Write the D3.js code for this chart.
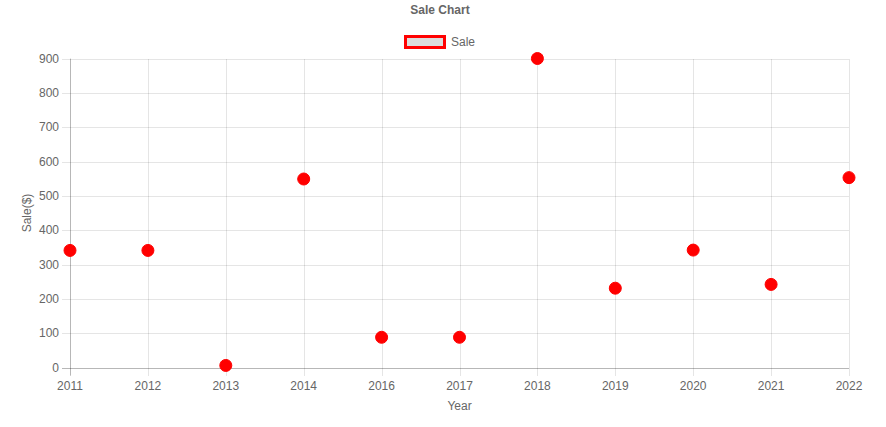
<!DOCTYPE html>
<html>
<head>
<meta charset="utf-8">
<script src="https://cdn.jsdelivr.net/npm/d3@7"></script>
<style>
  body { margin: 0; background: #fff; }
  svg text { font-family: "Liberation Sans", Arial, Helvetica, sans-serif; fill: #666; }
</style>
</head>
<body>
<div class="wrapper"></div>
<script>
var years = ["2011", "2012", "2013", "2014", "2016", "2017", "2018", "2019", "2020", "2021", "2022"];
var sales = [341, 341, 6, 549, 88, 88, 900, 231, 342, 242, 553];
var yTicks = [0, 100, 200, 300, 400, 500, 600, 700, 800, 900];

var W = 886, H = 427;
var m = { left: 70, right: 37, top: 58.5, bottom: 59.5 };

var svg = d3.select(".wrapper").append("svg")
  .attr("width", W)
  .attr("height", H);

var x = d3.scalePoint().domain(years).range([m.left, W - m.right]);
var y = d3.scaleLinear().domain([0, 900]).range([H - m.bottom, m.top]);

// grid
var grid = svg.append("g").attr("stroke", "rgba(0,0,0,0.1)").attr("shape-rendering", "crispEdges");
grid.selectAll("line.h").data(yTicks).enter().append("line")
  .attr("x1", m.left - 8).attr("x2", W - m.right)
  .attr("y1", function (d) { return Math.round(y(d)) + 0.5; })
  .attr("y2", function (d) { return Math.round(y(d)) + 0.5; });
grid.selectAll("line.v").data(years).enter().append("line")
  .attr("y1", m.top).attr("y2", H - m.bottom + 8)
  .attr("x1", function (d) { return Math.round(x(d)) + 0.5; })
  .attr("x2", function (d) { return Math.round(x(d)) + 0.5; });

// axis lines, a bit darker
svg.append("line")
  .attr("x1", m.left + 0.5).attr("x2", m.left + 0.5)
  .attr("y1", m.top).attr("y2", H - m.bottom + 8)
  .attr("stroke", "rgba(0,0,0,0.2)");
svg.append("line")
  .attr("x1", m.left - 8).attr("x2", W - m.right)
  .attr("y1", Math.round(y(0)) + 0.5).attr("y2", Math.round(y(0)) + 0.5)
  .attr("stroke", "rgba(0,0,0,0.2)");

// tick labels
svg.append("g").selectAll("text").data(yTicks).enter().append("text")
  .attr("x", m.left - 11)
  .attr("y", function (d) { return y(d); })
  .attr("dy", "0.35em")
  .attr("text-anchor", "end")
  .style("font-size", "12px")
  .text(function (d) { return d; });

svg.append("g").selectAll("text").data(years).enter().append("text")
  .attr("x", function (d) { return x(d); })
  .attr("y", H - m.bottom + 22)
  .attr("text-anchor", "middle")
  .style("font-size", "12px")
  .text(function (d) { return d; });

// axis titles
svg.append("text")
  .attr("x", (m.left + W - m.right) / 2)
  .attr("y", 410)
  .attr("text-anchor", "middle")
  .style("font-size", "12px")
  .text("Year");

svg.append("text")
  .attr("transform", "translate(31," + ((m.top + H - m.bottom) / 2) + ") rotate(-90)")
  .attr("text-anchor", "middle")
  .style("font-size", "12px")
  .text("Sale($)");

// title + legend
svg.append("text")
  .attr("x", 440)
  .attr("y", 14)
  .attr("text-anchor", "middle")
  .style("font-size", "12px")
  .style("font-weight", "bold")
  .text("Sale Chart");

svg.append("rect")
  .attr("x", 405.5).attr("y", 36.5)
  .attr("width", 39).attr("height", 11)
  .attr("fill", "rgba(220,220,220,1)")
  .attr("stroke", "red")
  .attr("stroke-width", 3);
svg.append("text")
  .attr("x", 451)
  .attr("y", 46)
  .style("font-size", "12px")
  .text("Sale");

// points
svg.append("g").selectAll("circle").data(years).enter().append("circle")
  .attr("cx", function (d) { return x(d); })
  .attr("cy", function (d, i) { return y(sales[i]); })
  .attr("r", 6)
  .attr("fill", "red")
  .attr("stroke", "red")
  .attr("stroke-width", 1);
</script>
</body>
</html>
